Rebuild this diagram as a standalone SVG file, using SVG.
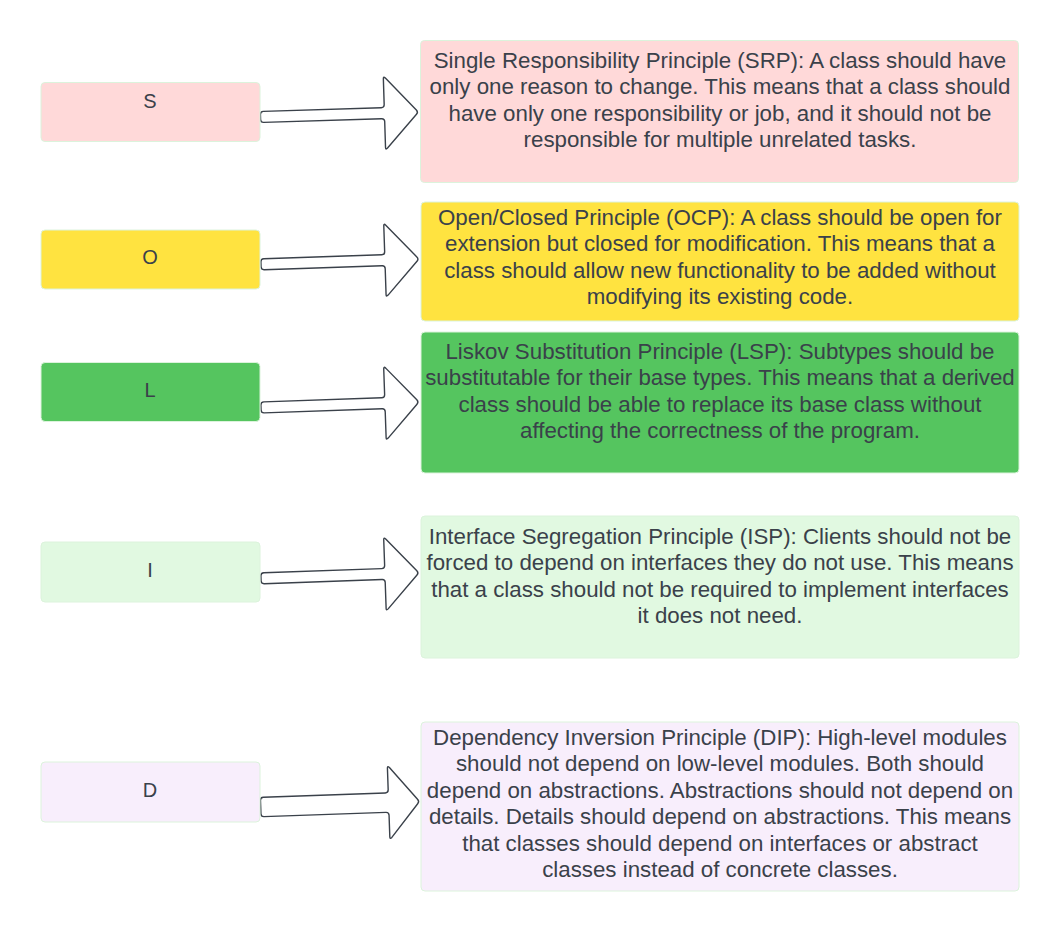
<svg xmlns="http://www.w3.org/2000/svg" width="1060" height="932" viewBox="0 0 1060 932">
<defs>
<style>
.box{stroke:#dcf3dc;stroke-width:1}
.lbl{font-family:"Liberation Sans",Arial,sans-serif;font-size:20px;fill:#3a414a;text-anchor:middle}
.txt{font-family:"Liberation Sans",Arial,sans-serif;font-size:22.3px;fill:#3a414a;text-anchor:middle}
.arr{fill:#ffffff;stroke:#3a414a;stroke-width:1.4;stroke-linejoin:round}
</style>
<path id="arrowA" d="M3,-5.5 L121,-5.5 Q124,-5.5 124,-8.5 L124,-34.5 Q124,-37 126,-35 L156,-2.2 Q158,0 156,2.2 L126,35 Q124,37 124,34.5 L124,8.5 Q124,5.5 121,5.5 L3,5.5 Q0,5.5 0,2.5 L0,-2.5 Q0,-5.5 3,-5.5 Z"/>
<path id="arrowB" d="M3,-9.7 L125,-9.7 Q128,-9.7 128,-12.7 L128,-34.5 Q128,-37 130,-35 L157,-2.2 Q159,0 157,2.2 L130,35 Q128,37 128,34.5 L128,12.7 Q128,9.7 125,9.7 L3,9.7 Q0,9.7 0,6.7 L0,-6.7 Q0,-9.7 3,-9.7 Z"/>
</defs>
<rect width="1060" height="932" fill="#ffffff"/>
<g id="connectors">
<use href="#arrowA" class="arr" transform="translate(260.5,117) rotate(-1.8)"/>
<use href="#arrowA" class="arr" transform="translate(261,264.3) rotate(-1.9)"/>
<use href="#arrowA" class="arr" transform="translate(261,407.5) rotate(-2.0)"/>
<use href="#arrowA" class="arr" transform="translate(261,578.3) rotate(-2.0)"/>
<use href="#arrowB" class="arr" transform="translate(260.7,807) rotate(-2.0)"/>
</g>
<g id="node-S">
<rect class="box" x="41" y="82.5" width="219" height="59" rx="4" fill="#ffd9d9"/>
<text class="lbl" x="150" y="108">S</text>
</g>
<g id="node-SRP">
<rect class="box" x="420.5" y="40.5" width="598" height="142" rx="4" fill="#ffd9d9"/>
<text class="txt" x="720" y="68"><tspan x="720">Single Responsibility Principle (SRP): A class should have</tspan><tspan x="720" dy="26.4">only one reason to change. This means that a class should</tspan><tspan x="720" dy="26.4">have only one responsibility or job, and it should not be</tspan><tspan x="720" dy="26.4">responsible for multiple unrelated tasks.</tspan></text>
</g>
<g id="node-O">
<rect class="box" x="41" y="230" width="219" height="59" rx="4" fill="#ffe340"/>
<text class="lbl" x="150" y="264">O</text>
</g>
<g id="node-OCP">
<rect class="box" x="421" y="202" width="598" height="119" rx="4" fill="#ffe340"/>
<text class="txt" x="720" y="225"><tspan x="720">Open/Closed Principle (OCP): A class should be open for</tspan><tspan x="720" dy="26.4">extension but closed for modification. This means that a</tspan><tspan x="720" dy="26.4">class should allow new functionality to be added without</tspan><tspan x="720" dy="26.4">modifying its existing code.</tspan></text>
</g>
<g id="node-L">
<rect class="box" x="41" y="362.5" width="219" height="59" rx="4" fill="#55c55f"/>
<text class="lbl" x="150" y="397">L</text>
</g>
<g id="node-LSP">
<rect class="box" x="421" y="332" width="598" height="141" rx="4" fill="#55c55f"/>
<text class="txt" x="720" y="359"><tspan x="720">Liskov Substitution Principle (LSP): Subtypes should be</tspan><tspan x="720" dy="26.4">substitutable for their base types. This means that a derived</tspan><tspan x="720" dy="26.4">class should be able to replace its base class without</tspan><tspan x="720" dy="26.4">affecting the correctness of the program.</tspan></text>
</g>
<g id="node-I">
<rect class="box" x="41" y="542" width="219" height="60" rx="4" fill="#e1f9e1"/>
<text class="lbl" x="150" y="577">I</text>
</g>
<g id="node-ISP">
<rect class="box" x="421" y="516" width="598" height="142" rx="4" fill="#e1f9e1"/>
<text class="txt" x="720" y="544"><tspan x="720">Interface Segregation Principle (ISP): Clients should not be</tspan><tspan x="720" dy="26.4">forced to depend on interfaces they do not use. This means</tspan><tspan x="720" dy="26.4">that a class should not be required to implement interfaces</tspan><tspan x="720" dy="26.4">it does not need.</tspan></text>
</g>
<g id="node-D">
<rect class="box" x="41" y="762" width="219" height="60" rx="4" fill="#f8eefc"/>
<text class="lbl" x="150" y="797">D</text>
</g>
<g id="node-DIP">
<rect class="box" x="421" y="722" width="598" height="169" rx="4" fill="#f8eefc"/>
<text class="txt" x="720" y="745"><tspan x="720">Dependency Inversion Principle (DIP): High-level modules</tspan><tspan x="720" dy="26.4">should not depend on low-level modules. Both should</tspan><tspan x="720" dy="26.4">depend on abstractions. Abstractions should not depend on</tspan><tspan x="720" dy="26.4">details. Details should depend on abstractions. This means</tspan><tspan x="720" dy="26.4">that classes should depend on interfaces or abstract</tspan><tspan x="720" dy="26.4">classes instead of concrete classes.</tspan></text>
</g>
</svg>
